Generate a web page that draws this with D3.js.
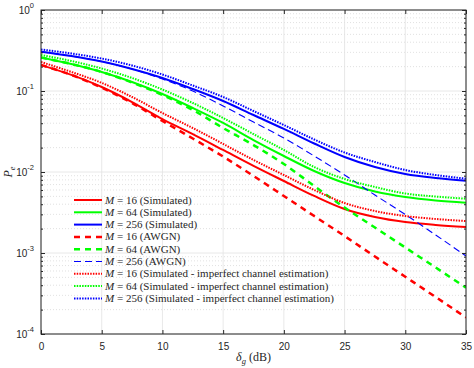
<!DOCTYPE html>
<html><head><meta charset="utf-8">
<script src="https://cdn.jsdelivr.net/npm/d3@7"></script>
<style>body{margin:0;background:#fff;} svg{display:block;}</style>
</head><body>
<svg id="chart" width="474" height="368"></svg>
<script>
// ---- data ----
const snrDb = [0, 2.5, 5, 7.5, 10, 12.5, 15, 17.5, 20, 22.5, 25, 27.5, 30, 32.5, 35];
const xTicks = [0, 5, 10, 15, 20, 25, 30, 35];
const yTickExps = [0, -1, -2, -3, -4];

const simM16  = [0.209,0.158,0.112,0.0731,0.0451,0.0294,0.0187,0.0119,0.00774,0.00506,0.00349,0.00278,0.00241,0.00222,0.00209];
const simM64  = [0.2593,0.2154,0.1716,0.1292,0.0918,0.0617,0.0403,0.0248,0.01576,0.01029,0.00731,0.00575,0.00491,0.00445,0.00418];
const simM256 = [0.3055,0.2704,0.2312,0.1869,0.1447,0.1058,0.0752,0.0505,0.0340,0.02248,0.01532,0.01152,0.00945,0.00843,0.00781];

const awgnM16  = [0.209,0.158,0.110,0.0711,0.0426,0.0259,0.0155,0.00893,0.00506,0.00286,0.00162,0.000905,0.000509,0.000286,0.000160];
const awgnM64  = [0.2593,0.2154,0.1716,0.1273,0.0892,0.0583,0.0349,0.0215,0.01256,0.00672,0.00364,0.00206,0.00117,0.000662,0.000373];
const awgnM256 = [0.3055,0.2704,0.2312,0.1869,0.1406,0.1,0.0653,0.0414,0.0263,0.01576,0.00918,0.00520,0.00299,0.00167,0.000918];

const iceM16  = [0.228,0.172,0.126,0.0843,0.0535,0.0349,0.0222,0.0141,0.00918,0.0060,0.00414,0.0033,0.00286,0.00263,0.00248];
const iceM64  = [0.2783,0.2346,0.1896,0.1447,0.1043,0.0711,0.0464,0.0294,0.0187,0.01152,0.00820,0.00653,0.00543,0.00498,0.00468];
const iceM256 = [0.3253,0.2904,0.2519,0.2064,0.1598,0.1169,0.0843,0.0566,0.0380,0.0252,0.0174,0.01328,0.01058,0.00918,0.00827];

const seriesLabels = [
  ["16", "(Simulated)"], ["64", "(Simulated)"], ["256", "(Simulated)"],
  ["16", "(AWGN)"], ["64", "(AWGN)"], ["256", "(AWGN)"],
  ["16", "(Simulated - imperfect channel estimation)"],
  ["64", "(Simulated - imperfect channel estimation)"],
  ["256", "(Simulated - imperfect channel estimation)"]
];

// ---- styles ----
const RED = "#ff0000", GREEN = "#00ff00", BLUE = "#0000ff";
const series = [
  {v: simM16,  c: RED,   w: 2,   dash: null},
  {v: simM64,  c: GREEN, w: 2,   dash: null},
  {v: simM256, c: BLUE,  w: 2,   dash: null},
  {v: awgnM16, c: RED,   w: 2.5, dash: "6,5"},
  {v: awgnM64, c: GREEN, w: 2.5, dash: "6,5"},
  {v: awgnM256,c: BLUE,  w: 1.1, dash: "7,4"},
  {v: iceM16,  c: RED,   w: 2,   dash: "1.5,1.2"},
  {v: iceM64,  c: GREEN, w: 2,   dash: "1.5,1.2"},
  {v: iceM256, c: BLUE,  w: 2,   dash: "1.5,1.2"}
];

const L = 41, R = 466, T = 10, B = 334;
const svg = d3.select("#chart");
const x = d3.scaleLinear().domain([0, 35]).range([L, R]);
const y = d3.scaleLog().domain([1e-4, 1]).range([B, T]);

// minor grid
const minorVals = [];
for (let e = -4; e < 0; e++) for (let k = 2; k <= 9; k++) minorVals.push(k * Math.pow(10, e));
const g = svg.append("g");
g.selectAll("line.minor").data(minorVals).enter().append("line")
  .attr("x1", L).attr("x2", R).attr("y1", d => y(d)).attr("y2", d => y(d))
  .attr("stroke", "#d4d4d4").attr("stroke-width", 0.7).attr("stroke-dasharray", "1,2");
// major grid
g.selectAll("line.majy").data(yTickExps.map(e => Math.pow(10, e))).enter().append("line")
  .attr("x1", L).attr("x2", R).attr("y1", d => y(d)).attr("y2", d => y(d))
  .attr("stroke", "#e2e2e2").attr("stroke-width", 0.8);
g.selectAll("line.majx").data(xTicks).enter().append("line")
  .attr("x1", d => x(d)).attr("x2", d => x(d)).attr("y1", T).attr("y2", B)
  .attr("stroke", "#e2e2e2").attr("stroke-width", 0.8);

// curves
const line = d3.line().x((d, i) => x(snrDb[i])).y(d => y(d)).curve(d3.curveMonotoneX);
svg.append("clipPath").attr("id", "clp").append("rect")
  .attr("x", L).attr("y", T).attr("width", R - L).attr("height", B - T);
const cg = svg.append("g").attr("clip-path", "url(#clp)");
series.forEach(s => {
  cg.append("path").attr("d", line(s.v)).attr("fill", "none")
    .attr("stroke", s.c).attr("stroke-width", s.w)
    .attr("stroke-dasharray", s.dash);
});

// axes
const axFont = "'Liberation Sans', Arial, sans-serif";
const xb = d3.axisBottom(x).tickValues(xTicks).tickSize(-4).tickPadding(9).tickFormat(d3.format("d"));
const xt = d3.axisTop(x).tickValues(xTicks).tickSize(-4).tickFormat("");
const tickVals = yTickExps.map(e => Math.pow(10, e));
const yl = d3.axisLeft(y).tickValues(tickVals).tickSize(-4).tickFormat("");
const yr = d3.axisRight(y).tickValues(tickVals).tickSize(-4).tickFormat("");
const ylm = d3.axisLeft(y).tickValues(minorVals).tickSize(-2).tickFormat("");
const yrm = d3.axisRight(y).tickValues(minorVals).tickSize(-2).tickFormat("");
function styleAx(sel) {
  sel.select(".domain").remove();
  sel.selectAll(".tick line").attr("stroke", "#262626");
  sel.selectAll("text").attr("font-family", axFont).attr("font-size", 10).attr("fill", "#262626");
}
svg.append("g").attr("transform", `translate(0,${B})`).call(xb).call(styleAx);
svg.append("g").attr("transform", `translate(0,${T})`).call(xt).call(styleAx);
svg.append("g").attr("transform", `translate(${L},0)`).call(yl).call(styleAx);
svg.append("g").attr("transform", `translate(${R},0)`).call(yr).call(styleAx);
svg.append("g").attr("transform", `translate(${L},0)`).call(ylm).call(styleAx);
svg.append("g").attr("transform", `translate(${R},0)`).call(yrm).call(styleAx);
svg.append("rect").attr("x", L).attr("y", T).attr("width", R - L).attr("height", B - T)
  .attr("fill", "none").attr("stroke", "#262626").attr("stroke-width", 1);

// y tick labels 10^e
yTickExps.forEach(e => {
  const t = svg.append("text").attr("x", L - 7).attr("y", y(Math.pow(10, e)) + 4)
    .attr("text-anchor", "end").attr("font-family", axFont).attr("font-size", 10).attr("fill", "#262626");
  t.append("tspan").text("10");
  t.append("tspan").attr("dy", -6).attr("font-size", 7.5).text(String(e));
});

// axis labels
const serif = "'Liberation Serif', 'DejaVu Serif', serif";
const xlab = svg.append("text").attr("x", (L + R) / 2).attr("y", 361).attr("text-anchor", "middle")
  .attr("font-family", serif).attr("font-size", 12).attr("fill", "#262626");
xlab.append("tspan").attr("font-style", "italic").text("δ");
xlab.append("tspan").attr("font-style", "italic").attr("font-size", 8.5).attr("dy", 3).text("g");
xlab.append("tspan").attr("dy", -3).text(" (dB)");
const ylab = svg.append("text").attr("transform", `translate(12,${(T + B) / 2}) rotate(-90)`)
  .attr("text-anchor", "middle").attr("font-family", serif).attr("font-size", 12).attr("fill", "#262626");
ylab.append("tspan").attr("font-style", "italic").text("P");
ylab.append("tspan").attr("font-style", "italic").attr("font-size", 8.5).attr("dy", 3).text("e");

// legend
const lg = svg.append("g");
const rowY0 = 200, rowH = 12.3;
series.forEach((s, i) => {
  const yy = rowY0 + i * rowH;
  lg.append("line").attr("x1", 74).attr("x2", 102).attr("y1", yy).attr("y2", yy)
    .attr("stroke", s.c).attr("stroke-width", s.w).attr("stroke-dasharray", s.dash);
  const t = lg.append("text").attr("x", 105).attr("y", yy + 3.5)
    .attr("font-family", serif).attr("font-size", 11).attr("fill", "#262626");
  t.append("tspan").attr("font-style", "italic").text("M");
  t.append("tspan").text(" = " + seriesLabels[i][0] + " " + seriesLabels[i][1]);
});
</script>
</body></html>
